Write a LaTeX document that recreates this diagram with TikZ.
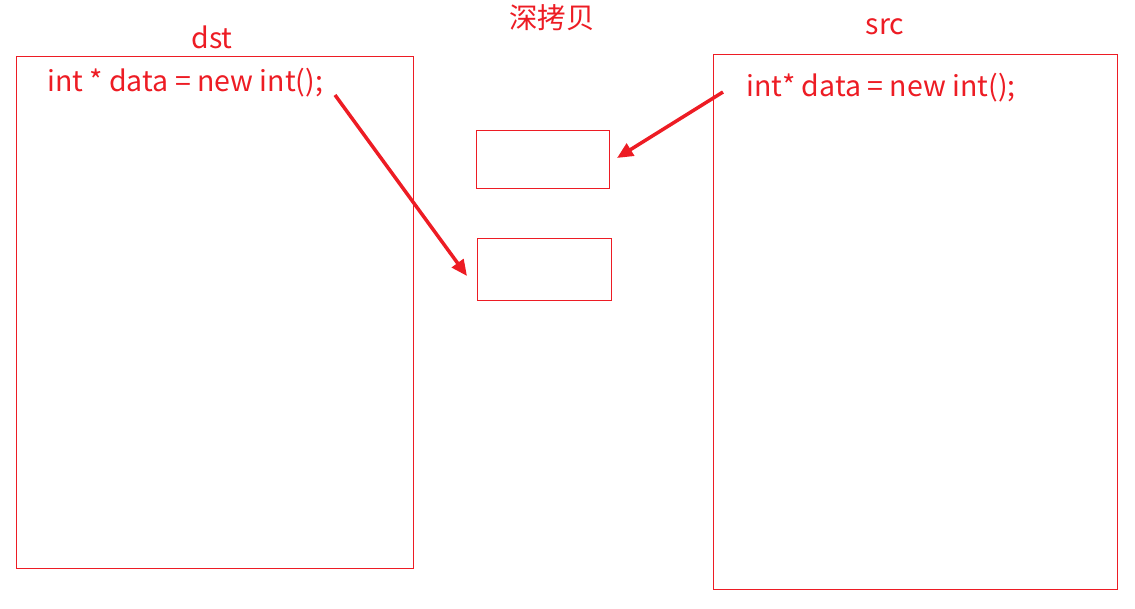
\documentclass[tikz,border=0pt]{standalone}
\usepackage{fontspec}
\setmainfont{Noto Sans CJK SC}
\usetikzlibrary{arrows.meta}
\definecolor{myred}{RGB}{237,28,36}
\begin{document}
\begin{tikzpicture}[x=1pt,y=-1pt,
  box/.style={draw=myred,line width=0.8pt},
  lbl/.style={text=myred,font=\fontsize{28.5}{32}\selectfont,inner sep=0pt},
  arr/.style={draw=myred,line width=3.5pt,-{Triangle[length=16pt,width=14pt]}}]
\useasboundingbox (0,0) rectangle (1135,609);
\draw[box] (16,56) rectangle (413,568);
\draw[box] (713,54) rectangle (1117,589);
\node[box,minimum width=133pt,minimum height=58pt,anchor=north west,inner sep=0pt] (b1) at (476,130) {};
\node[box,minimum width=134pt,minimum height=62pt,anchor=north west,inner sep=0pt] (b2) at (477,238) {};
\node[lbl] (dst) at (212,37) {dst};
\node[lbl] (title) at (552,18) {深拷贝};
\node[lbl] (src) at (885,27) {src};
\node[lbl,anchor=west] (l) at (47,83) {int * data = new int();};
\node[lbl,anchor=west] (r) at (746,88) {int* data = new int();};
\coordinate (a1) at (335,95);
\coordinate (a2) at (723,92);
\coordinate (e1) at (467,276);
\coordinate (e2) at (617,158);
\draw[arr] (a1) -- (e1);
\draw[arr] (a2) -- (e2);
\end{tikzpicture}
\end{document}
